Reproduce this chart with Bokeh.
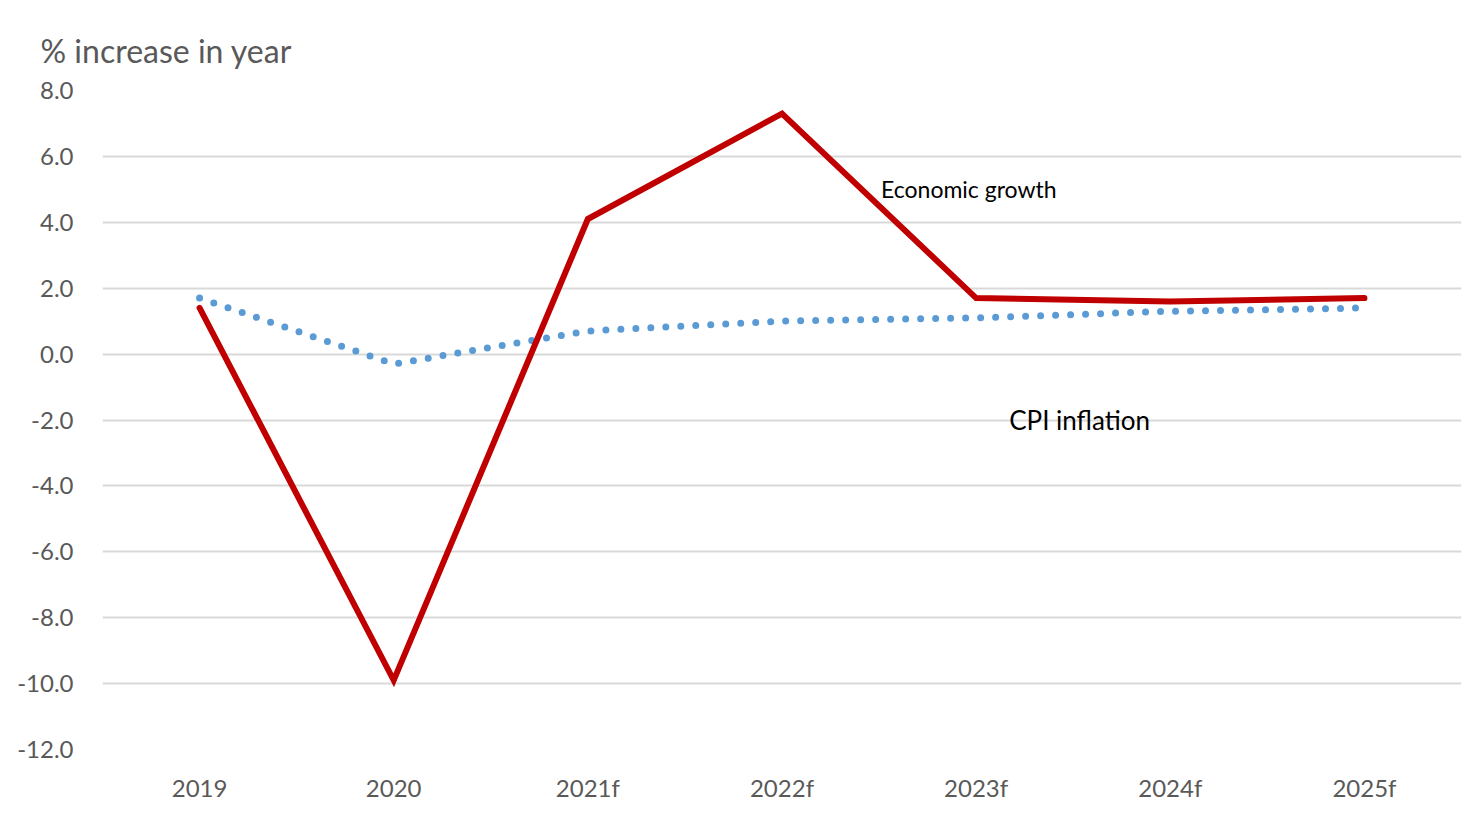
from bokeh.plotting import figure
from bokeh.models import Label, FixedTicker, NumeralTickFormatter
from bokeh.embed import file_html
from bokeh.resources import INLINE

years = ["2019", "2020", "2021f", "2022f", "2023f", "2024f", "2025f"]
growth = [1.4, -9.9, 4.1, 7.3, 1.7, 1.6, 1.7]
cpi = [1.7, -0.3, 0.7, 1.0, 1.1, 1.3, 1.4]
y_ticks = [-12, -10, -8, -6, -4, -2, 0, 2, 4, 6, 8]

FONT = "Lato"
GREY = "#595959"

p = figure(x_range=years, y_range=(-12, 8), width=1468, height=804,
           output_backend="svg", toolbar_location=None, tools="",
           min_border_left=102, min_border_right=7,
           min_border_top=90, min_border_bottom=52)
p.outline_line_color = None
p.background_fill_color = "white"

p.title.text = "% increase in year"
p.title.align = "left"
p.title.offset = -62
p.title.standoff = 41
p.title.text_font = FONT
p.title.text_font_size = "32px"
p.title.text_font_style = "normal"
p.title.text_color = GREY

p.line(years, cpi, line_color="#5B9BD5", line_width=7,
       line_dash="0 15", line_cap="round")
p.line(years, growth, line_color="#C00000", line_width=6,
       line_join="miter", line_cap="round")

p.xgrid.grid_line_color = None
p.ygrid.grid_line_color = "#D9D9D9"
p.ygrid.grid_line_width = 2

p.yaxis.ticker = FixedTicker(ticks=y_ticks)
p.yaxis.formatter = NumeralTickFormatter(format="0.0")
for ax in (p.xaxis, p.yaxis):
    ax.axis_line_color = None
    ax.major_tick_line_color = None
    ax.minor_tick_line_color = None
    ax.major_tick_out = 0
    ax.major_label_text_font = FONT
    ax.major_label_text_font_size = "24px"
    ax.major_label_text_color = GREY
p.yaxis.major_label_standoff = 29
p.xaxis.major_label_standoff = 23

p.add_layout(Label(x=4.01, y=5.0, text="Economic growth", text_font=FONT,
                   text_font_size="23px", text_color="black",
                   text_baseline="middle"))
p.add_layout(Label(x=4.67, y=-2.0, text="CPI inflation", text_font=FONT,
                   text_font_size="26px", text_color="black",
                   text_baseline="middle"))

open("out.html", "w").write(file_html(p, INLINE))
